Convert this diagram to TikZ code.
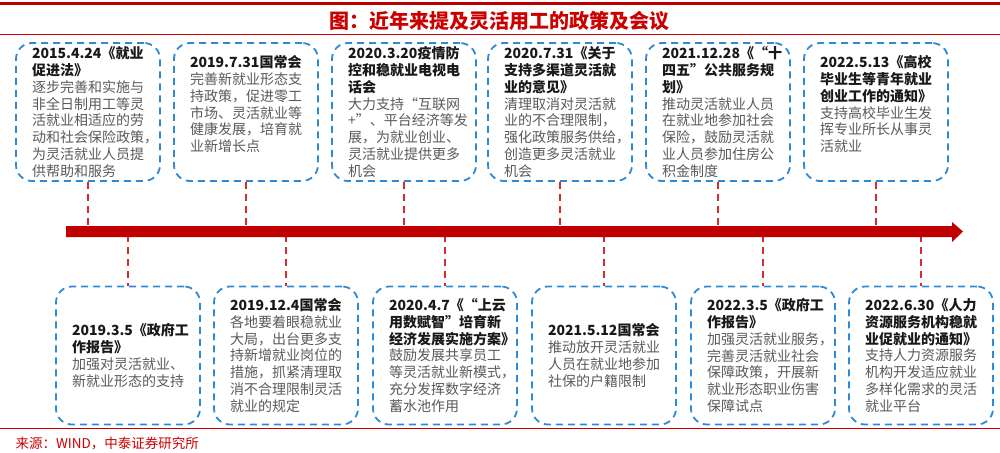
\documentclass[tikz,border=0pt]{standalone}
\usepackage{fontspec}
\setmainfont{Noto Sans CJK SC}
\definecolor{barred}{HTML}{C00000}
\definecolor{titlered}{HTML}{CC0000}
\definecolor{linkred}{HTML}{D42C2C}
\definecolor{boxblue}{HTML}{2E8AD6}
\definecolor{bodygray}{HTML}{5A5A5A}
\newcommand\hdf{\bfseries\color{black!90}}
\tikzset{
  evbox/.style={draw=boxblue, line width=1.8pt, dash pattern=on 7pt off 5pt,
    rounded corners=16pt, text width=112pt, inner xsep=16pt, inner ysep=2pt,
    minimum height=138pt, align=left, text=bodygray,
    font=\fontsize{14}{16.8}\selectfont},
  link/.style={draw=linkred, line width=1.8pt, dash pattern=on 7pt off 5pt},
}
\begin{document}
\begin{tikzpicture}[x=1pt,y=-1pt]
\useasboundingbox (0,0) rectangle (1000,452);
\fill[white] (0,0) rectangle (1000,452);
% header / footer rules
\draw[barred, line width=3pt] (0,4) -- (1000,4);
\draw[titlered, line width=1pt] (0,35) -- (1000,35);
\draw[titlered, line width=1pt] (0,428) -- (1000,428);
\node[text=titlered, font=\fontsize{20}{24}\selectfont\bfseries] (title) at (499,21) {图：近年来提及灵活用工的政策及会议};
\node[anchor=west, text=titlered, font=\fontsize{13.5}{16}\selectfont] (src) at (12,443) {来源：WIND，中泰证券研究所};

% top boxes
\node[evbox] (t1) at (88,112) {{\hdf 2015.4.24《就业\\促进法》}\\逐步完善和实施与\\非全日制用工等灵\\活就业相适应的劳\\动和社会保险政策，\\为灵活就业人员提\\供帮助和服务};
\node[evbox] (t2) at (246,112) {{\hdf 2019.7.31国常会}\\完善新就业形态支\\持政策，促进零工\\市场、灵活就业等\\健康发展，培育就\\业新增长点\\\mbox{}};
\node[evbox] (t3) at (404,112) {{\hdf 2020.3.20疫情防\\控和稳就业电视电\\话会}\\大力支持“互联网\\+”、平台经济等发\\展，为就业创业、\\灵活就业提供更多\\机会};
\node[evbox] (t4) at (560,112) {{\hdf 2020.7.31《关于\\支持多渠道灵活就\\业的意见》}\\清理取消对灵活就\\业的不合理限制，\\强化政策服务供给，\\创造更多灵活就业\\机会};
\node[evbox] (t5) at (718,112) {{\hdf 2021.12.28《“十\\四五”公共服务规\\划》}\\推动灵活就业人员\\在就业地参加社会\\保险，鼓励灵活就\\业人员参加住房公\\积金制度};
\node[evbox] (t6) at (876,112) {{\hdf 2022.5.13《高校\\毕业生等青年就业\\创业工作的通知》}\\支持高校毕业生发\\挥专业所长从事灵\\活就业\\\mbox{}};

% bottom boxes
\node[evbox] (b1) at (128,355.5) {{\hdf 2019.3.5《政府工\\作报告》}\\加强对灵活就业、\\新就业形态的支持};
\node[evbox] (b2) at (286,355.5) {{\hdf 2019.12.4国常会}\\各地要着眼稳就业\\大局，出台更多支\\持新增就业岗位的\\措施，抓紧清理取\\消不合理限制灵活\\就业的规定};
\node[evbox] (b3) at (445,355.5) {{\hdf 2020.4.7《“上云\\用数赋智”培育新\\经济发展实施方案》}\\鼓励发展共享员工\\等灵活就业新模式，\\充分发挥数字经济\\蓄水池作用};
\node[evbox] (b4) at (604,355.5) {{\hdf 2021.5.12国常会}\\推动放开灵活就业\\人员在就业地参加\\社保的户籍限制};
\node[evbox] (b5) at (763,355.5) {{\hdf 2022.3.5《政府工\\作报告》}\\加强灵活就业服务，\\完善灵活就业社会\\保障政策，开展新\\就业形态职业伤害\\保障试点};
\node[evbox] (b6) at (921,355.5) {{\hdf 2022.6.30《人力\\资源服务机构稳就\\业促就业的通知》}\\支持人力资源服务\\机构开发适应就业\\多样化需求的灵活\\就业平台};

% attachment points on the timeline
\foreach \i/\x in {1/88,2/246,3/404,4/560,5/718,6/876}{
  \coordinate (bt\i) at (\x,228);
  \draw[link] (t\i.south) -- (bt\i);
}
\foreach \i/\x in {1/128,2/286,3/445,4/604,5/763,6/921}{
  \coordinate (bb\i) at (\x,235);
  \draw[link] (bb\i) -- (b\i.north);
}

% timeline arrow
\fill[barred] (66,226) -- (952,226) -- (952,222) -- (963,231.5) -- (952,242) -- (952,237) -- (66,237) -- cycle;
\end{tikzpicture}
\end{document}
